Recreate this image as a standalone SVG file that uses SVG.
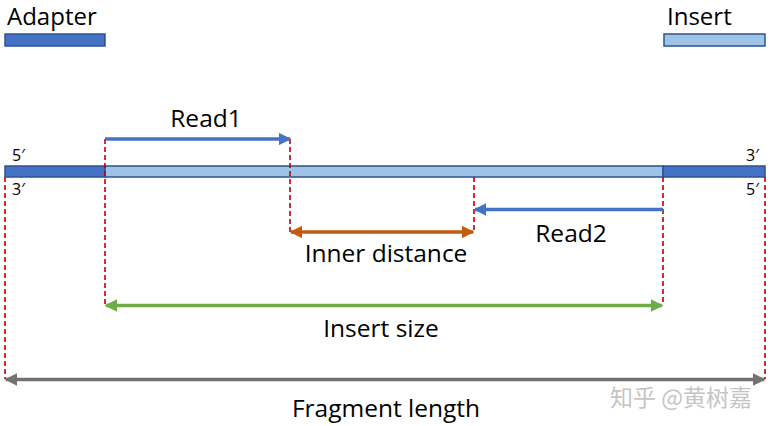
<svg xmlns="http://www.w3.org/2000/svg" width="772" height="426" viewBox="0 0 772 426">
<defs>
<style>
.t{font-family:"Open Sans","Liberation Sans",sans-serif;font-size:24.5px;fill:#000}
.h{font-family:"Open Sans","Liberation Sans",sans-serif;font-size:24px;fill:#000}
.s{font-family:"Open Sans","Liberation Sans",sans-serif;font-size:16px;fill:#000}
.dk{fill:#4472C4;stroke:#2F528F;stroke-width:1.5}
.lt{fill:#9DC3E6;stroke:#2F528F;stroke-width:1.5}
.dash{stroke:#C00000;stroke-width:1.6;stroke-dasharray:5,3;fill:none}
.arr{stroke-width:3.5;fill:none}
</style>
<marker id="mb" viewBox="0 0 10 10" refX="9" refY="5" markerWidth="3.6" markerHeight="3.6" orient="auto-start-reverse"><path d="M0,0L10,5L0,10z" fill="#4472C4"/></marker>
<marker id="mo" viewBox="0 0 10 10" refX="9" refY="5" markerWidth="3.6" markerHeight="3.6" orient="auto-start-reverse"><path d="M0,0L10,5L0,10z" fill="#C55A11"/></marker>
<marker id="mg" viewBox="0 0 10 10" refX="9" refY="5" markerWidth="3.6" markerHeight="3.6" orient="auto-start-reverse"><path d="M0,0L10,5L0,10z" fill="#70AD47"/></marker>
<marker id="mr" viewBox="0 0 10 10" refX="9" refY="5" markerWidth="3.6" markerHeight="3.6" orient="auto-start-reverse"><path d="M0,0L10,5L0,10z" fill="#767171"/></marker>
</defs>
<rect width="772" height="426" fill="#fff"/>
<g id="legend-adapter">
<text class="h" x="7" y="25">Adapter</text>
<rect class="dk" x="5" y="34" width="100" height="12"/>
</g>
<g id="legend-insert">
<text class="h" x="667" y="25">Insert</text>
<rect class="lt" x="664" y="34" width="101" height="12"/>
</g>
<g id="fragment-bar">
<rect class="dk" x="5" y="166" width="100" height="11"/>
<rect class="lt" x="105" y="166" width="558" height="11"/>
<rect class="dk" x="663" y="166" width="102" height="11"/>
<text class="s" x="12" y="161">5′</text>
<text class="s" x="12" y="195">3′</text>
<text class="s" x="746" y="161">3′</text>
<text class="s" x="746" y="195">5′</text>
</g>
<g id="connectors">
<line class="dash" x1="105" y1="139" x2="105" y2="305"/>
<line class="dash" x1="290" y1="139" x2="290" y2="232"/>
<line class="dash" x1="474" y1="177" x2="474" y2="232"/>
<line class="dash" x1="663" y1="177" x2="663" y2="305"/>
<line class="dash" x1="5" y1="177" x2="5" y2="379"/>
<line class="dash" x1="765" y1="177" x2="765" y2="379"/>
<line class="arr" stroke="#4472C4" x1="105" y1="139" x2="290" y2="139" marker-end="url(#mb)"/>
<line class="arr" stroke="#4472C4" x1="663" y1="209.5" x2="475" y2="209.5" marker-end="url(#mb)"/>
<line class="arr" stroke="#C55A11" x1="291" y1="232" x2="473" y2="232" marker-start="url(#mo)" marker-end="url(#mo)"/>
<line class="arr" stroke="#70AD47" x1="106" y1="305.5" x2="662" y2="305.5" marker-start="url(#mg)" marker-end="url(#mg)"/>
<line class="arr" stroke="#767171" x1="6" y1="379.5" x2="764" y2="379.5" marker-start="url(#mr)" marker-end="url(#mr)"/>
</g>
<g id="labels">
<text class="t" x="206" y="127" text-anchor="middle">Read1</text>
<text class="t" x="571" y="242" text-anchor="middle">Read2</text>
<text class="t" x="386" y="262" text-anchor="middle">Inner distance</text>
<text class="t" x="381" y="337" text-anchor="middle">Insert size</text>
<text class="t" x="386" y="417" text-anchor="middle">Fragment length</text>
</g>
<text x="610" y="406" font-family="Noto Sans CJK SC,sans-serif" font-size="23" fill="#c4c4c4">知乎 @黄树嘉</text>
</svg>
